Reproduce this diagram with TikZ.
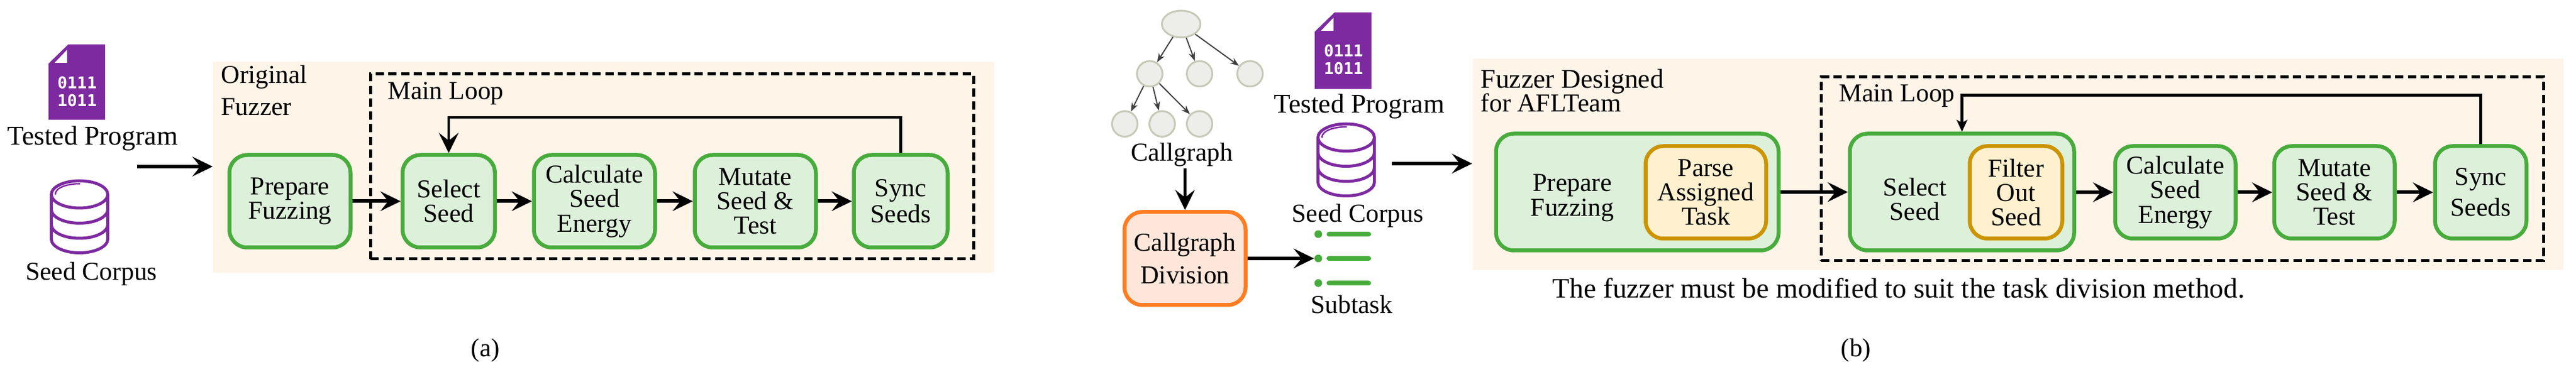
\documentclass[tikz,border=0pt]{standalone}
\usepackage{fontspec}
\setmainfont{Liberation Serif}
\newfontfamily\bitsfont{DejaVu Sans Mono}[Scale=1.0]
\usetikzlibrary{arrows.meta, positioning, shapes.geometric, calc}

\definecolor{panelbg}{HTML}{FFF4E8}
\definecolor{stepgreen}{HTML}{48AC3C}
\definecolor{stepfill}{HTML}{DDF0DA}
\definecolor{addgold}{HTML}{CC9400}
\definecolor{addfill}{HTML}{FFF1CF}
\definecolor{divorange}{HTML}{FF7D23}
\definecolor{divfill}{HTML}{FFE6DA}
\definecolor{iconpurple}{HTML}{7D2AA0}
\definecolor{treeedge}{HTML}{C5C9B5}
\definecolor{treefill}{HTML}{EDEDEA}

\begin{document}
\begin{tikzpicture}[
  % Define styles for different elements
  txt/.style={font=\fontsize{12.4}{11.7}\selectfont, align=center, inner sep=0pt},
  bigtxt/.style={txt, font=\fontsize{13}{11.7}\selectfont},
  box/.style={txt, draw, line width=0.065cm, rounded corners=3mm, minimum height=1.56cm},
  stepbox/.style={box, draw=stepgreen, fill=stepfill, execute at begin node={\rule{0pt}{0.85em}}},
  bigbox/.style={box, draw=stepgreen, fill=stepfill, minimum height=1.97cm},
  addbox/.style={box, draw=addgold, fill=addfill, execute at begin node={\rule{0pt}{0.85em}}},
  divbox/.style={box, draw=divorange, fill=divfill},
  panel/.style={fill=panelbg, inner sep=0pt, minimum height=3.56cm},
  loopbox/.style={draw, line width=0.05cm, dash pattern=on 0.14cm off 0.075cm, inner sep=0pt},
  arrow/.style={-{Stealth[length=3.4mm, width=3.3mm, inset=1.3mm]}, line width=0.06cm},
  backarrow/.style={arrow, line width=0.045cm},
  smallback/.style={-{Stealth[length=2mm, width=1.8mm, inset=0.5mm]}, line width=0.045cm},
  treenode/.style={ellipse, draw=treeedge, fill=treefill, line width=0.03cm, inner sep=0pt},
  treearrow/.style={-{Stealth[length=1.5mm, width=1.1mm]}, line width=0.02cm, draw=black!75},
  docfill/.style={fill=iconpurple},
  bits/.style={font=\bitsfont\bfseries\fontsize{7.8}{8.8}\selectfont, text=white, align=center, inner sep=0pt},
  can/.style={draw=iconpurple, line width=0.05cm},
  dot/.style={circle, fill=stepgreen, minimum size=0.13cm, inner sep=0pt},
  bar/.style={fill=stepgreen, rounded corners=0.04cm, minimum width=0.75cm, minimum height=0.08cm, inner sep=0pt}
]
\useasboundingbox (0,0) rectangle (43.4,-6.36);

% (a) Background and main loop
\node[panel, minimum width=13.16cm] (panelA) at (10.17,-2.82) {};
\node[loopbox, minimum width=10.16cm, minimum height=3.125cm] (mainA) at (11.32,-2.8075) {};

% (a) Inputs
\begin{scope}[shift={(0.815,-0.75)}]
  \fill[docfill] (0.335,0) -- (0.955,0) -- (0.955,-1.27) -- (0,-1.27) -- (0,-0.325) -- cycle;
  \fill[white] (0.315,-0.09) -- (0.105,-0.31) -- (0.315,-0.31) -- cycle;
  \node[bits] (bitsA) at (0.485,-0.795) {0111\\1011};
\end{scope}
\node[bigtxt, anchor=base] (progA) at (1.56,-2.45) {Tested Program};

\begin{scope}[shift={(0.84,-3.02)}]
  \draw[can] (0.5,-0.26) ellipse (0.475 and 0.23);
  \draw[can] (0.025,-0.26) -- (0.025,-1.015) arc (180:360:0.475 and 0.23) -- (0.975,-0.26);
  \draw[can] (0.025,-0.515) arc (180:360:0.475 and 0.23);
  \draw[can] (0.025,-0.77) arc (180:360:0.475 and 0.23);
  \draw[iconpurple, line width=0.025cm] (0.09,-0.265) .. controls (0.09,-0.14) and (0.3,-0.08) .. (0.51,-0.08);
\end{scope}
\node[txt, anchor=base] (corpusA) at (1.54,-4.73) {Seed Corpus};

% (a) Labels
\node[txt, anchor=base west, align=left] (fuzzA) at (3.72,-1.41) {Original};
\node[txt, anchor=base west, align=left] (fuzzA2) at (3.72,-1.95) {Fuzzer};
\node[txt, anchor=base west] (loopA) at (6.53,-1.68) {Main Loop};

% (a) Steps
\node[stepbox, minimum width=2.04cm] (prepA) at (4.885,-3.395) {Prepare\\Fuzzing};
\node[stepbox, minimum width=1.555cm] (selA) at (7.56,-3.395) {Select\\Seed};
\node[stepbox, minimum width=2.04cm] (calcA) at (10.015,-3.395) {Calculate\\Seed\\Energy};
\node[stepbox, minimum width=2.04cm] (mutA) at (12.725,-3.395) {Mutate\\Seed \&\\Test};
\node[stepbox, minimum width=1.58cm, font=\fontsize{12.4}{12.6}\selectfont] (syncA) at (15.175,-3.395) {Sync\\Seeds};

\coordinate (inA) at (2.31,-2.81);
\coordinate (backA) at (15.175,-1.98);
\draw[arrow] (inA) -- (panelA.west |- inA);
\draw[arrow] (prepA) -- (selA);
\draw[arrow] (selA) -- (calcA);
\draw[arrow] (calcA) -- (mutA);
\draw[arrow] (mutA) -- (syncA);
\draw[backarrow] (syncA.north) -- (backA) -| (selA.north);

\node[txt, anchor=base] (capA) at (8.18,-6.02) {(a)};

% (b) Callgraph
\node[treenode, minimum width=0.65cm, minimum height=0.45cm] (root) at (19.90,-0.405) {};
\node[treenode, minimum size=0.43cm] (kid1) at (19.37,-1.245) {};
\node[treenode, minimum size=0.43cm] (kid2) at (20.21,-1.245) {};
\node[treenode, minimum size=0.43cm] (kid3) at (21.06,-1.245) {};
\node[treenode, minimum size=0.43cm] (leaf1) at (18.95,-2.09) {};
\node[treenode, minimum size=0.43cm] (leaf2) at (19.58,-2.09) {};
\node[treenode, minimum size=0.43cm] (leaf3) at (20.21,-2.09) {};
\draw[treearrow] (root) -- (kid1);
\draw[treearrow] (root) -- (kid2);
\draw[treearrow] (root) -- (kid3);
\draw[treearrow] (kid1) -- (leaf1);
\draw[treearrow] (kid1) -- (leaf2);
\draw[treearrow] (kid1) -- (leaf3);
\node[txt, anchor=base] (cgraph) at (19.91,-2.72) {Callgraph};

% (b) Division and subtasks
\node[divbox, minimum width=2.04cm, minimum height=1.57cm, font=\fontsize{12.4}{15.8}\selectfont] (division) at (19.965,-4.36) {Callgraph\\Division};
\draw[arrow, line width=0.045cm] (cgraph.south -| division.north) ++(0,-0.02) -- (division.north);

\node[dot] (dot1) at (22.21,-3.95) {};
\node[dot] (dot2) at (22.21,-4.36) {};
\node[dot] (dot3) at (22.21,-4.775) {};
\node[bar] (bar1) at (22.725,-3.95) {};
\node[bar] (bar2) at (22.725,-4.36) {};
\node[bar] (bar3) at (22.725,-4.775) {};
\draw[arrow] (division) -- (dot2);
\node[txt, anchor=base] (subtask) at (22.775,-5.286) {Subtask};

% (b) Inputs
\begin{scope}[shift={(22.15,-0.21)}]
  \fill[docfill] (0.335,0) -- (0.955,0) -- (0.955,-1.29) -- (0,-1.29) -- (0,-0.325) -- cycle;
  \fill[white] (0.315,-0.09) -- (0.105,-0.31) -- (0.315,-0.31) -- cycle;
  \node[bits] (bitsB) at (0.485,-0.795) {0111\\1011};
\end{scope}
\node[bigtxt, anchor=base] (progB) at (22.90,-1.91) {Tested Program};

\begin{scope}[shift={(22.18,-2.06)}]
  \draw[can] (0.5,-0.26) ellipse (0.475 and 0.23);
  \draw[can] (0.025,-0.26) -- (0.025,-1.015) arc (180:360:0.475 and 0.23) -- (0.975,-0.26);
  \draw[can] (0.025,-0.515) arc (180:360:0.475 and 0.23);
  \draw[can] (0.025,-0.77) arc (180:360:0.475 and 0.23);
  \draw[iconpurple, line width=0.025cm] (0.09,-0.265) .. controls (0.09,-0.14) and (0.3,-0.08) .. (0.51,-0.08);
\end{scope}
\node[txt, anchor=base] (corpusB) at (22.875,-3.75) {Seed Corpus};

% (b) Background and main loop
\node[panel, minimum width=18.38cm] (panelB) at (34.00,-2.77) {};
\node[loopbox, minimum width=12.17cm, minimum height=3.10cm] (mainB) at (36.765,-2.85) {};

% (b) Labels
\node[bigtxt, anchor=base west] (fuzzB) at (24.94,-1.49) {Fuzzer Designed};
\node[txt, anchor=base west] (fuzzB2) at (24.94,-1.89) {for AFLTeam};
\node[txt, anchor=base west] (loopB) at (30.98,-1.72) {Main Loop};

% (b) Steps
\node[bigbox, minimum width=4.76cm] (prepB) at (27.585,-3.24) {};
\node[addbox, minimum width=2.03cm] (parse) at (28.74,-3.245) {Parse\\Assigned\\Task};
\node[txt] (prepText) at (26.49,-3.34) {Prepare\\Fuzzing};
\node[bigbox, minimum width=3.78cm] (selB) at (33.055,-3.24) {};
\node[addbox, minimum width=1.56cm] (filter) at (33.965,-3.245) {Filter\\Out\\Seed};
\node[txt] (selText) at (32.26,-3.36) {Select\\Seed};
\node[stepbox, minimum width=2.03cm] (calcB) at (36.65,-3.245) {Calculate\\Seed\\Energy};
\node[stepbox, minimum width=2.03cm] (mutB) at (39.33,-3.245) {Mutate\\Seed \&\\Test};
\node[stepbox, minimum width=1.54cm, font=\fontsize{12.4}{14.8}\selectfont] (syncB) at (41.795,-3.245) {Sync\\Seeds};

\coordinate (inB) at (23.45,-2.76);
\coordinate (backB) at (41.795,-1.606);
\draw[arrow] (inB) -- (panelB.west |- inB);
\draw[arrow] (prepB) -- (selB);
\draw[arrow] (selB) -- (calcB);
\draw[arrow] (calcB) -- (mutB);
\draw[arrow] (mutB) -- (syncB);
\draw[smallback] (syncB.north) -- (backB) -| (selB.north);

\node[txt, anchor=base west, font=\fontsize{13.5}{14}\selectfont] (note) at (26.15,-5.03) {The fuzzer must be modified to suit the task division method.};
\node[txt, anchor=base] (capB) at (31.27,-6.02) {(b)};

\end{tikzpicture}
\end{document}
